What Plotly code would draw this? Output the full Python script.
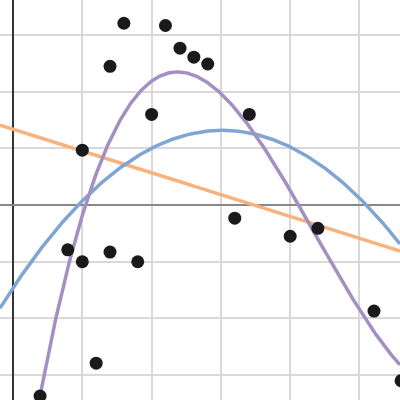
import numpy as np
import plotly.graph_objects as go

xs = [0.39, 1.0, 0.79, 1.0, 1.2, 1.4, 1.4, 1.6, 1.8, 2.0, 2.2, 2.41, 2.61, 2.81, 3.2, 3.41, 4.0, 4.4, 5.21, 5.6]
ys = [-3.37, 0.97, -0.79, -1.0, -2.79, 2.45, -0.83, 3.21, -1.0, 1.6, 3.17, 2.77, 2.61, 2.49, -0.23, 1.6, -0.55, -0.41, -1.87, -3.1]

# fitted curve coefficients (highest power first)
linear_coef = [-0.385, 1.34]
qa, qh, qk = -0.305, 3.02, 1.32
quad_coef = [qa, -2 * qa * qh, qa * qh ** 2 + qk]
# cubic anchor samples
cubic_x = [0.39, 2.41, 4.0, 5.585]
cubic_y = [-3.37, 2.35, 0.26, -2.82]
cubic_coef = np.polyfit(cubic_x, cubic_y, 3)

X0, X1 = -0.188, 5.585
Y0, Y1 = -3.44, 3.62
xx = np.linspace(X0, X1, 400)

fig = go.Figure()
for c, col in [(linear_coef, "#f9b27c"), (quad_coef, "#7fa6d3"), (cubic_coef, "#a48fc2")]:
    fig.add_trace(go.Scatter(x=xx, y=np.polyval(c, xx), mode="lines",
                             line=dict(color=col, width=3.5), hoverinfo="skip"))
fig.add_trace(go.Scatter(x=xs, y=ys, mode="markers",
                         marker=dict(color="#1a1a1a", size=13)))

shapes = [dict(type="line", x0=4, x1=4, y0=Y0, y1=Y1, line=dict(color="#777", width=1.5), layer="below")]
fig.update_layout(
    width=400, height=400, margin=dict(l=0, r=0, t=0, b=0),
    paper_bgcolor="white", plot_bgcolor="white", showlegend=False, shapes=shapes,
    xaxis=dict(range=[X0, X1], dtick=1, showgrid=True, gridcolor="#d9d9d9", gridwidth=1.5,
               showticklabels=False, zeroline=True, zerolinecolor="#333", zerolinewidth=2),
    yaxis=dict(range=[Y0, Y1], dtick=1, showgrid=True, gridcolor="#d9d9d9", gridwidth=1.5,
               showticklabels=False, zeroline=True, zerolinecolor="#888", zerolinewidth=1.5),
)
fig.write_html("out.html", config={"displayModeBar": False})
with open("out.html") as f:
    html = f.read()
html = html.replace("<body>", '<body style="margin:0;overflow:hidden">', 1)
with open("out.html", "w") as f:
    f.write(html)
